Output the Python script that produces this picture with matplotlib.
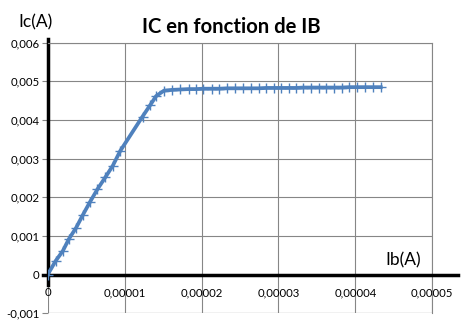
import matplotlib
matplotlib.use("Agg")
import matplotlib.pyplot as plt
import numpy as np

plt.rcParams['font.family'] = ['Lato', 'DejaVu Sans']

# Ib en A, Ic en A
ib = [0, 1.04, 1.96, 2.78, 3.69, 4.56, 5.50, 6.47, 7.50, 8.47, 9.43,
      12.33, 13.34, 14.10,
      15.12, 16.20, 17.24, 18.34, 19.28, 20.23, 21.33, 22.31, 23.35, 24.40,
      25.40, 26.40, 27.44, 28.43, 29.43, 30.38, 31.34, 32.33, 33.24, 34.20,
      35.24, 36.19, 37.23, 38.23, 39.22, 40.26, 41.22, 42.26, 43.30]
ic = [0, 0.356, 0.61, 0.93, 1.21, 1.54, 1.88, 2.21, 2.52, 2.82, 3.20,
      4.09, 4.39, 4.62,
      4.76, 4.78, 4.79, 4.80, 4.80, 4.81, 4.81, 4.81, 4.82, 4.82,
      4.82, 4.82, 4.82, 4.83, 4.83, 4.83, 4.83, 4.83, 4.84, 4.84,
      4.84, 4.84, 4.84, 4.84, 4.85, 4.85, 4.85, 4.85, 4.85]
ib = np.array(ib) * 1e-6
ic = np.array(ic) * 1e-3

xticks = [0, 0.00001, 0.00002, 0.00003, 0.00004, 0.00005]
xlabels = ['0', '0,00001', '0,00002', '0,00003', '0,00004', '0,00005']
yticks = [-0.001, 0, 0.001, 0.002, 0.003, 0.004, 0.005, 0.006]
ylabels = ['-0,001', '0', '0,001', '0,002', '0,003', '0,004', '0,005', '0,006']

fig = plt.figure(figsize=(4.62, 3.36), dpi=100)
ax = fig.add_axes([0.1032, 0.0676, 0.8325, 0.8053])

ax.plot(ib, ic, color='#4F81BD', lw=2.7, marker='+', ms=6.5, mew=1.0, zorder=3)

ax.set_xlim(0, 0.00005)
ax.set_ylim(-0.001, 0.006)
ax.set_xticks(xticks)
ax.set_xticklabels(xlabels)
ax.set_yticks(yticks)
ax.set_yticklabels(ylabels)
ax.grid(True, color='#868686', lw=0.8, zorder=0)
ax.set_axisbelow(True)

for s in ['top', 'right']:
    ax.spines[s].set_color('#868686')
    ax.spines[s].set_linewidth(0.8)

# axes noirs style Excel
ax.spines['bottom'].set_position(('data', 0))
ax.spines['bottom'].set_color('black')
ax.spines['bottom'].set_linewidth(2.5)
ax.spines['bottom'].set_bounds(-0.0000006, 0.0000534)
ax.spines['left'].set_color('black')
ax.spines['left'].set_linewidth(2.5)
ax.spines['left'].set_bounds(-0.00026, 0.0061)
ax.axhline(-0.001, color='#868686', lw=0.8, zorder=0)

ax.tick_params(axis='x', length=0, pad=9, labelsize=8.2, colors='black')
ax.tick_params(axis='y', length=4, width=0.8, pad=2, labelsize=8.2, color='#868686')

fig.text(0.5, 0.92, 'IC en fonction de IB', ha='center', va='center',
         fontsize=14.6, fontweight='bold')
fig.text(36 / 462, 1 - 22 / 336, 'Ic(A)', ha='center', va='center', fontsize=12.5)
fig.text(403 / 462, 1 - 260 / 336, 'Ib(A)', ha='center', va='center', fontsize=12.5)

fig.savefig('out.png', dpi=100)
